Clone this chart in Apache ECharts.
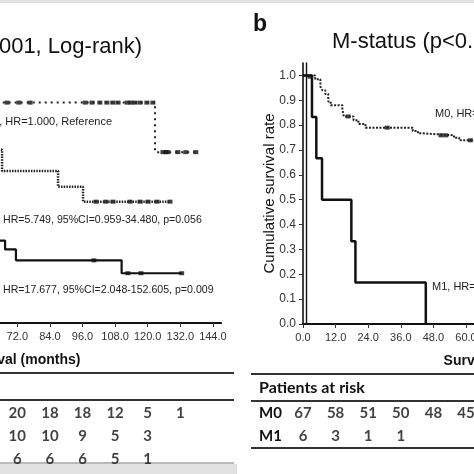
<!DOCTYPE html>
<html><head><meta charset="utf-8">
<script src="https://cdn.jsdelivr.net/npm/echarts@6/dist/echarts.min.js"></script>
<style>html,body{margin:0;padding:0;background:#fff}#c{width:474px;height:474px}</style>
</head><body><div id="c"></div>
<script>
// ---- data ----
const monthTicks = [0, 12, 24, 36, 48, 60, 72, 84, 96, 108, 120, 132, 144];
const rateTicks = [0, 0.1, 0.2, 0.3, 0.4, 0.5, 0.6, 0.7, 0.8, 0.9, 1.0];

// left panel (partly off-frame)
const leftTopCurve = [[60, 0.89], [122.7, 0.69], [138, 0.69]];
const leftTopCensor = [68.2, 72.6, 76.7, 97, 99.5, 102.4, 105, 107.2, 109.1, 112.4, 113.8, 115.3, 117.2, 119.7, 121.9];
const leftTopCensor2 = [125.6, 126.7, 127.4, 131.1, 134, 137.7];
const leftMidCurve = [[60, 0.70], [66.4, 0.614], [87, 0.55], [96.2, 0.49], [128.2, 0.49]];
const leftMidCensor = [101, 104.6, 107.2, 113.5, 117.2, 120.1, 123.4, 128.2];
const leftLowCurve = [[60, 0.333], [67.5, 0.297], [71.5, 0.253], [110.4, 0.201], [132.5, 0.201]];
const leftLowCensor1 = [100.2];
const leftLowCensor2 = [112.7, 117.5, 132.5];

// right panel: M-status
const m0Curve = [[0, 1], [4.5, 0.985], [6.4, 0.955], [7.1, 0.94], [8.2, 0.925], [9.3, 0.895], [10.2, 0.88],
  [14.5, 0.865], [15, 0.835], [18.6, 0.82], [20.4, 0.805], [23, 0.79], [40.4, 0.776], [42.3, 0.767],
  [44.1, 0.759], [55.6, 0.749], [57.5, 0.739], [80, 0.739]];
const m0Censor = [[2.6, 0.995], [16.6, 0.835], [31, 0.79], [50.8, 0.759], [52.6, 0.759], [61.6, 0.739]];
const m1Curve = [[0, 1], [3.3, 0.833], [4.9, 0.667], [7, 0.5], [17.8, 0.333], [19.3, 0.167], [45.2, 0]];

// patients at risk
const leftRiskRows = ['G1', 'G2', 'G3'];
const leftRiskTimes = [72, 84, 96, 108, 120, 132];
const leftRisk = [[20, 18, 18, 12, 5, 1], [10, 10, 9, 5, 3], [6, 6, 6, 5, 1]];
const rightRiskRows = ['M0', 'M1'];
const rightRiskTimes = [0, 12, 24, 36, 48, 60];
const rightRisk = [[67, 58, 51, 50, 48, 45], [6, 3, 1, 1]];

// ---- chart ----
const AR = 'Liberation Sans';
const TB = 'Lato';
const pxPerMonth = 32.6 / 12;
const axisW = 147 * pxPerMonth;
const leftX0 = 17.3 - 72 * pxPerMonth;
const rightX0 = 303;

function riskData(times, rows) {
  const out = [];
  rows.forEach((r, i) => r.forEach((v, j) => out.push([times[j], i, v])));
  return out;
}
function kmX(grid) {
  return {
    gridIndex: grid, type: 'value', min: 0, max: 147, position: 'bottom',
    axisLine: {show: true, lineStyle: {color: '#111', width: 2}},
    axisTick: {show: true, customValues: monthTicks, length: 4, lineStyle: {color: '#333'}},
    axisLabel: {customValues: monthTicks, formatter: v => v.toFixed(1), color: '#333', fontFamily: AR, fontSize: 11, margin: 8},
    splitLine: {show: false},
    name: 'Survival (months)', nameLocation: 'middle', nameGap: 30, nameMoveOverlap: false,
    nameTextStyle: {fontFamily: AR, fontWeight: 'bold', fontSize: 14, color: '#111'}
  };
}
function line(xi, yi, data, style) {
  return {type: 'line', xAxisIndex: xi, yAxisIndex: yi, data, step: 'end', symbol: 'none',
    lineStyle: style, animation: false, silent: true};
}
function censor(xi, yi, data) {
  return {type: 'scatter', xAxisIndex: xi, yAxisIndex: yi, data, symbol: 'rect', symbolSize: [5, 4],
    itemStyle: {color: '#111'}, animation: false, silent: true};
}
const topStyle = {color: '#222', width: 2, type: [2, 4]};
const midStyle = {color: '#222', width: 2.5, type: [1.5, 1.2]};
const lowStyle = {color: '#111', width: 2.2};
const gridBase = {outerBoundsMode: 'none', containLabel: false};

const chart = echarts.init(document.getElementById('c'), null, {renderer: 'canvas'});
chart.setOption({
  backgroundColor: '#fff',
  animation: false,
  grid: [
    Object.assign({left: leftX0, top: 63, width: axisW, height: 260}, gridBase),
    Object.assign({left: rightX0, top: 63, width: axisW, height: 261}, gridBase),
    Object.assign({left: leftX0, top: 401, width: axisW, height: 70}, gridBase),
    Object.assign({left: rightX0, top: 402, width: axisW, height: 46}, gridBase)
  ],
  xAxis: [
    kmX(0),
    kmX(1),
    {gridIndex: 2, type: 'value', min: 0, max: 147, show: false},
    {gridIndex: 3, type: 'value', min: 0, max: 147, show: false}
  ],
  yAxis: [
    {gridIndex: 0, type: 'value', min: 0, max: 1.05, show: false},
    {gridIndex: 1, type: 'value', min: 0, max: 1.05, position: 'left',
      axisLine: {show: true, lineStyle: {color: '#111', width: 1.6}},
      axisTick: {show: true, customValues: rateTicks, length: 4, lineStyle: {color: '#333'}},
      axisLabel: {customValues: rateTicks, formatter: v => v.toFixed(1), color: '#333', fontFamily: AR, fontSize: 12, margin: 7},
      splitLine: {show: false},
      name: 'Cumulative survival rate', nameLocation: 'middle', nameGap: 26, nameRotate: 90, nameMoveOverlap: false,
      nameTextStyle: {fontFamily: AR, fontSize: 15, color: '#111'}},
    {gridIndex: 1, type: 'value', min: 0, max: 1.05, position: 'left', offset: -3,
      axisLine: {show: true, lineStyle: {color: '#111', width: 1.4}},
      axisTick: {show: false}, axisLabel: {show: false}, splitLine: {show: false}},
    {gridIndex: 2, type: 'category', data: leftRiskRows, inverse: true, show: false},
    {gridIndex: 3, type: 'category', data: rightRiskRows, inverse: true, position: 'left',
      axisLine: {show: false}, axisTick: {show: false},
      axisLabel: {align: 'left', margin: 44, fontFamily: TB, fontWeight: 'bold', fontSize: 15, color: '#111'}}
  ],
  series: [
    line(0, 0, leftTopCurve, topStyle),
    censor(0, 0, leftTopCensor.map(t => [t, 0.89])),
    censor(0, 0, leftTopCensor2.map(t => [t, 0.69])),
    line(0, 0, leftMidCurve, midStyle),
    censor(0, 0, leftMidCensor.map(t => [t, 0.49])),
    line(0, 0, leftLowCurve, lowStyle),
    censor(0, 0, leftLowCensor1.map(t => [t, 0.253])),
    censor(0, 0, leftLowCensor2.map(t => [t, 0.201])),
    line(1, 1, m0Curve, {color: '#222', width: 2, type: [2, 1.5]}),
    censor(1, 1, m0Censor),
    line(1, 1, m1Curve, {color: '#111', width: 2.5}),
    {type: 'scatter', xAxisIndex: 2, yAxisIndex: 3, data: riskData(leftRiskTimes, leftRisk), symbolSize: 0,
      label: {show: true, position: 'inside', formatter: p => String(p.value[2]), fontFamily: TB, fontWeight: 'bold', fontSize: 15, color: '#111'}},
    {type: 'scatter', xAxisIndex: 3, yAxisIndex: 4, data: riskData(rightRiskTimes, rightRisk), symbolSize: 0,
      label: {show: true, position: 'inside', formatter: p => String(p.value[2]), fontFamily: TB, fontWeight: 'bold', fontSize: 15, color: '#111'}}
  ],
  graphic: [
    {type: 'rect', shape: {x: 0, y: 0, width: 474, height: 3}, style: {fill: '#e2e2e2'}, silent: true},
    {type: 'rect', shape: {x: 0, y: 464, width: 237, height: 10}, style: {fill: '#e2e2e2'}, silent: true},
    {type: 'line', shape: {x1: 0, y1: 463, x2: 234, y2: 463}, style: {stroke: '#777', lineWidth: 1.2}},
    // titles
    {type: 'text', x: 142, y: 47, style: {text: 'N-status (p<0.001, Log-rank)', font: '22px "Liberation Sans"', fill: '#111', align: 'right', verticalAlign: 'middle'}},
    {type: 'text', x: 332, y: 42, style: {text: 'M-status (p<0.001, Log-rank)', font: '22px "Liberation Sans"', fill: '#111', align: 'left', verticalAlign: 'middle'}},
    {type: 'text', x: 253, y: 25, style: {text: 'b', font: 'bold 23px "Liberation Sans"', fill: '#111', verticalAlign: 'middle'}},
    // curve labels
    {type: 'text', x: 112, y: 122, style: {text: 'N0, HR=1.000, Reference', font: '11px "Liberation Sans"', fill: '#222', align: 'right', verticalAlign: 'middle'}},
    {type: 'text', x: 3, y: 220, style: {text: 'HR=5.749, 95%CI=0.959-34.480, p=0.056', font: '10.6px "Liberation Sans"', fill: '#222', verticalAlign: 'middle'}},
    {type: 'text', x: 3, y: 290, style: {text: 'HR=17.677, 95%CI=2.048-152.605, p=0.009', font: '10.6px "Liberation Sans"', fill: '#222', verticalAlign: 'middle'}},
    {type: 'text', x: 435, y: 114, style: {text: 'M0, HR=1.000, Reference', font: '11px "Liberation Sans"', fill: '#222', verticalAlign: 'middle'}},
    {type: 'text', x: 432, y: 287, style: {text: 'M1, HR=', font: '11px "Liberation Sans"', fill: '#222', verticalAlign: 'middle'}},
    // risk tables
    {type: 'line', shape: {x1: 0, y1: 373, x2: 234, y2: 373}, style: {stroke: '#333', lineWidth: 2}},
    {type: 'line', shape: {x1: 0, y1: 400, x2: 234, y2: 400}, style: {stroke: '#333', lineWidth: 2}},
    {type: 'line', shape: {x1: 251, y1: 374, x2: 474, y2: 374}, style: {stroke: '#333', lineWidth: 2}},
    {type: 'line', shape: {x1: 251, y1: 401, x2: 474, y2: 401}, style: {stroke: '#333', lineWidth: 2}},
    {type: 'line', shape: {x1: 251, y1: 448, x2: 474, y2: 448}, style: {stroke: '#333', lineWidth: 2}},
    {type: 'text', x: 259, y: 388, style: {text: 'Patients at risk', font: 'bold 16px Lato', fill: '#111', verticalAlign: 'middle'}}
  ]
});
</script></body></html>
